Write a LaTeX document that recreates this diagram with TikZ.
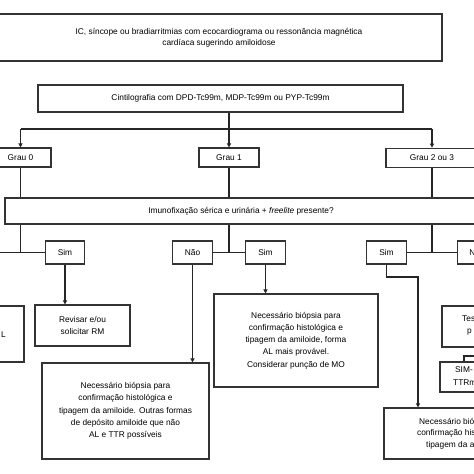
\documentclass[tikz,border=0pt]{standalone}
\usepackage{fontspec}
\setmainfont{Liberation Sans}
\usetikzlibrary{arrows.meta}

\begin{document}
\begin{tikzpicture}[
    font=\fontsize{9.5pt}{13.9pt}\selectfont,
    caixa/.style={draw=black!80, line width=1.2pt, align=center, inner sep=2pt},
    sn/.style={caixa, minimum width=1.58cm, minimum height=0.92cm},
    liga/.style={draw=black!85, line width=1.2pt},
    frag/.style={anchor=west, inner sep=0pt},
    >={Triangle[length=1.6mm,width=1.6mm]}]
  \useasboundingbox (0,0) rectangle (18.96,-18.96);
  \clip (0,0) rectangle (18.96,-18.96);

  % topo
  \node[caixa, minimum width=17.84cm, minimum height=1.88cm,
    font=\fontsize{9.5pt}{12.5pt}\selectfont] (inicio) at (8.76,-1.5)
    {IC, síncope ou bradiarritmias com ecocardiograma ou ressonância magnética\\
     cardíaca sugerindo amiloidose};
  \node[caixa, minimum width=14.6cm, minimum height=1.08cm] (cint) at (8.82,-3.94)
    {Cintilografia com DPD-Tc99m, MDP-Tc99m ou PYP-Tc99m};

  % graus
  \node[caixa, minimum width=2.44cm, minimum height=0.76cm] (grau0) at (0.82,-6.3) {Grau 0};
  \node[caixa, minimum width=2.4cm, minimum height=0.76cm] (grau1) at (9.16,-6.3) {Grau 1};
  \node[caixa, minimum width=3.68cm, minimum height=0.78cm] (grau23) at (17.28,-6.32) {Grau 2 ou 3};
  \coordinate (divide) at (9.16,-5.16);
  \draw[liga] (grau0.north |- divide) -- (grau23.north |- divide);
  \draw[liga,->] (cint.south -| grau1.north) -- (grau1.north);
  \draw[liga,->] (grau0.north |- divide) -- (grau0.north);
  \draw[liga,->] (grau23.north |- divide) -- (grau23.north);

  \node[caixa, minimum width=18.88cm, minimum height=1.04cm] (imuno) at (9.64,-8.44)
    {Imunofixação sérica e urinária + \textit{freelite} presente?};
  \foreach \g in {grau0,grau1,grau23}
    \draw[liga] (\g.south) -- (\g.south |- imuno.north);

  % sim / nao
  \node[sn] (simA) at (2.6,-10.1) {Sim};
  \node[sn] (naoB) at (7.7,-10.1) {Não};
  \node[sn] (simB) at (10.62,-10.1) {Sim};
  \node[sn] (simC) at (15.46,-10.1) {Sim};
  \node[sn] (naoC) at (19.08,-10.1) {Não};
  \coordinate (fora) at (-0.5,-10.1);
  \draw[liga] (grau0.south |- imuno.south) -- (grau0.south |- simA);
  \draw[liga] (fora) -- (simA);
  \draw[liga] (grau1.south |- imuno.south) -- (grau1.south |- simB);
  \draw[liga] (naoB) -- (simB);
  \draw[liga] (grau23.south |- imuno.south) -- (grau23.south |- simC);
  \draw[liga] (simC) -- (naoC);

  % condutas
  \node[caixa, minimum width=1.76cm, minimum height=2.24cm] (esq) at (0.08,-13.36) {};
  \node[frag] (esqtxt) at (0.04,-13.4) {L};
  \node[caixa, minimum width=3.8cm, minimum height=1.64cm] (revisar) at (3.3,-13.02)
    {Revisar e/ou\\solicitar RM};
  \node[caixa, minimum width=6.56cm, minimum height=3.72cm] (meio) at (11.84,-13.62)
    {Necessário biópsia para\\confirmação histológica e\\tipagem da amiloide, forma\\
     AL mais provável.\\Considerar punção de MO};
  \node[caixa, minimum width=6.68cm, minimum height=3.84cm] (baixoesq) at (5.02,-16.44)
    {Necessário biópsia para\\confirmação histológica e\\tipagem da amiloide. Outras formas\\
     de depósito amiloide que não\\AL e TTR possíveis};
  \draw[liga,->] (simA.south) -- (simA.south |- revisar.north);
  \draw[liga,->] (simB.south) -- (simB.south |- meio.north);
  \draw[liga,->] (naoB.south) -- (naoB.south |- baixoesq.north);

  % lado direito
  \node[caixa, minimum width=3.52cm, minimum height=1.64cm] (teste) at (19.44,-13.06) {};
  \node[caixa, minimum width=3.6cm, minimum height=1.2cm] (simttr) at (19.4,-15.08) {};
  \node[caixa, minimum width=6.24cm, minimum height=2.04cm] (baixodir) at (18.48,-17.34) {};
  \foreach \n/\x/\y/\t in {t1/18.48/-12.76/Tes, t2/18.68/-13.28/p,
      s1/18.2/-14.8/SIM-, s2/18.12/-15.32/TTRm,
      b1/16.76/-16.84/Necessário bió, b2/16.68/-17.32/confirmação his,
      b3/17.04/-17.8/tipagem da a}
    \node[frag] (\n) at (\x,\y) {\t};
  \coordinate (junta) at (18.56,-14.24);
  \draw[liga] (junta |- simttr.north) -- (junta) -- ++(1,0);
  \coordinate (dobra) at (16.72,-11.08);
  \draw[liga,->] (simC.south) |- (dobra) -- (dobra |- baixodir.north);
\end{tikzpicture}
\end{document}
